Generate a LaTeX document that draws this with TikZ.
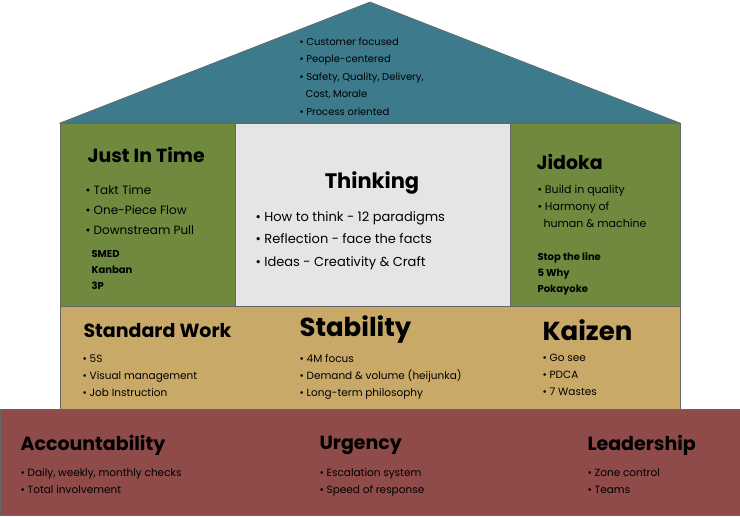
\documentclass[tikz,border=0pt]{standalone}
\usepackage{fontspec}
\setmainfont{Poppins}
\begin{document}
\begin{tikzpicture}[x=1pt,y=-1pt,
  blk/.style={draw=black!60,line width=0.6pt},
  ttl/.style={anchor=west,font=\fontsize{19}{22}\selectfont\bfseries},
  big/.style={anchor=west,font=\fontsize{26}{30}\selectfont\bfseries},
  lst/.style={anchor=north west,align=left,font=\fontsize{12}{19}\selectfont},
  sml/.style={anchor=north west,align=left,font=\fontsize{10.5}{17}\selectfont},
  bld/.style={anchor=north west,align=left,font=\fontsize{10}{16}\selectfont\bfseries}]
\definecolor{teal1}{HTML}{3D7B8C}
\definecolor{grn}{HTML}{6F8A3F}
\definecolor{gry}{HTML}{E5E5E5}
\definecolor{tan1}{HTML}{C8A968}
\definecolor{mar}{HTML}{8F4A4A}
\useasboundingbox (0,0) rectangle (740,517);
\fill[white] (0,0) rectangle (740,517);
\filldraw[blk,fill=teal1] (60,123) -- (370,2) -- (680,123) -- cycle;
\node[sml,anchor=north west,font=\fontsize{10}{17.5}\selectfont] (roof) at (296,34) {• Customer focused\\• People-centered\\• Safety, Quality, Delivery,\\\hspace*{6pt}Cost, Morale\\• Process oriented};
\filldraw[blk,fill=grn] (60,123) rectangle (235,306);
\filldraw[blk,fill=gry] (235,123) rectangle (510,306);
\filldraw[blk,fill=grn] (510,123) rectangle (680,306);
\filldraw[blk,fill=tan1] (60,306) rectangle (680,409);
\filldraw[blk,fill=mar] (0,409) rectangle (740,515);
% left pillar
\node[ttl] (jit) at (84,155) {Just In Time};
\node[lst,font=\fontsize{12}{20}\selectfont] (jitl) at (82,182) {• Takt Time\\• One-Piece Flow\\• Downstream Pull};
\node[bld] (jitb) at (88,247) {SMED\\Kanban\\3P};
% center
\node[big,anchor=center,font=\fontsize{21}{25}\selectfont\bfseries] (thk) at (372,183) {Thinking};
\node[lst,font=\fontsize{13}{22.5}\selectfont] (thkl) at (252,208) {• How to think - 12 paradigms\\• Reflection - face the facts\\• Ideas - Creativity \& Craft};
% right pillar
\node[ttl] (jid) at (533,162) {Jidoka};
\node[sml,font=\fontsize{11}{17}\selectfont] (jidl) at (534,182) {• Build in quality\\• Harmony of\\\hspace*{6pt}human \& machine};
\node[bld] (jidb) at (534,249) {Stop the line\\5 Why\\Pokayoke};
% band
\node[ttl] (sw) at (80,331) {Standard Work};
\node[sml] (swl) at (79,351) {• 5S\\• Visual management\\• Job Instruction};
\node[big] (stab) at (296,330) {Stability};
\node[sml] (stabl) at (296,351) {• 4M focus\\• Demand \& volume (heijunka)\\• Long-term philosophy};
\node[big] (kai) at (539,330) {Kaizen};
\node[sml] (kail) at (539,351) {• Go see\\• PDCA\\• 7 Wastes};
% foundation
\node[ttl] (acc) at (17,445) {Accountability};
\node[sml] (accl) at (17,465) {• Daily, weekly, monthly checks\\• Total involvement};
\node[ttl] (urg) at (316,445) {Urgency};
\node[sml] (urgl) at (316,465) {• Escalation system\\• Speed of response};
\node[ttl] (lead) at (584,445) {Leadership};
\node[sml] (leadl) at (584,465) {• Zone control\\• Teams};
\end{tikzpicture}
\end{document}
